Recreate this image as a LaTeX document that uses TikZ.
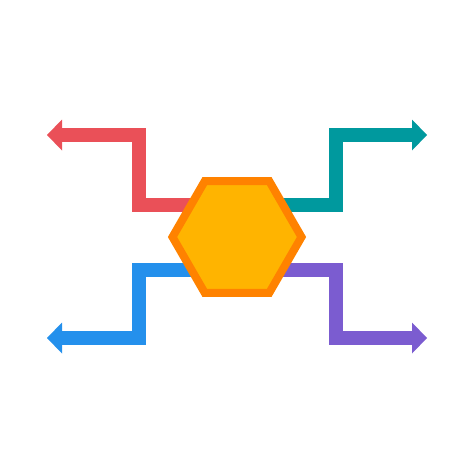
\documentclass[tikz,border=0pt]{standalone}
\usetikzlibrary{arrows.meta,shapes.geometric,backgrounds}

\definecolor{armred}{HTML}{EA5058}
\definecolor{armteal}{HTML}{00999E}
\definecolor{armblue}{HTML}{2490EC}
\definecolor{armpurple}{HTML}{7B5CD0}
\definecolor{hexfill}{HTML}{FFB400}
\definecolor{hexline}{HTML}{FF8200}

\begin{document}
\begin{tikzpicture}[
		x=1pt, y=-1pt,
		arm/.style={line width=14pt, line join=miter,
			-{Triangle[width=31pt, length=15pt, line width=0pt]}},
		hexbox/.style={regular polygon, regular polygon sides=6,
			minimum size=129pt, inner sep=0pt, line width=8pt,
			draw=hexline, fill=hexfill}
		]

	\useasboundingbox (0, 0) rectangle (474, 474);

	% Centre
	\node[hexbox] (hex) at (237, 237) {};

	% Bends and tips
	\coordinate (redbend) at (139, 135);
	\coordinate (redtip) at (47, 135);
	\coordinate (tealbend) at (336, 135);
	\coordinate (tealtip) at (427, 135);
	\coordinate (bluebend) at (139, 338);
	\coordinate (bluetip) at (47, 338);
	\coordinate (purplebend) at (336, 338);
	\coordinate (purpletip) at (427, 338);

	\begin{scope}[on background layer]
		% Upper arms
		\draw[arm, armred] ([yshift=32.5pt]hex.center) -| (redbend) -- (redtip);
		\draw[arm, armteal] ([yshift=32.5pt]hex.center) -| (tealbend) -- (tealtip);

		% Lower arms
		\draw[arm, armblue] ([yshift=-32.5pt]hex.center) -| (bluebend) -- (bluetip);
		\draw[arm, armpurple] ([yshift=-32.5pt]hex.center) -| (purplebend) -- (purpletip);
	\end{scope}

\end{tikzpicture}
\end{document}
